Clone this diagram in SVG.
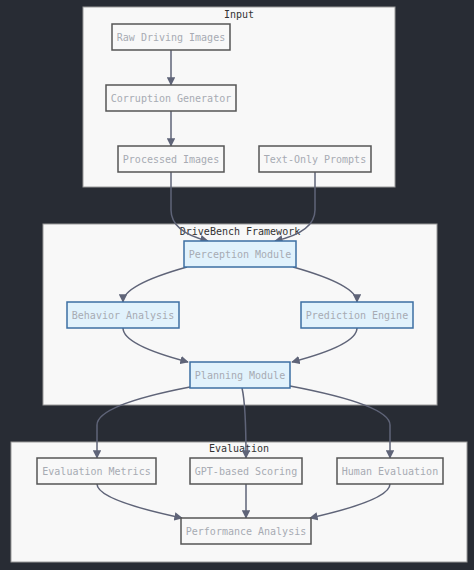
<svg xmlns="http://www.w3.org/2000/svg" width="474" height="570" viewBox="0 0 474 570">
<defs>
<style>
.cl{fill:#f8f8f8;stroke:#9a9a9a;stroke-width:1}
.ct{font-family:"DejaVu Sans Mono",monospace;font-size:10px;fill:#333;text-anchor:middle}
.n rect{fill:#f8f8f8;stroke:#555;stroke-width:1.5}
.b rect{fill:#e1f2fc;stroke:#3d6fa3;stroke-width:1.5}
.n text,.b text{font-family:"DejaVu Sans Mono",monospace;font-size:10px;fill:#a7abb3;text-anchor:middle;dominant-baseline:central}
.e path{fill:none;stroke:#5f6478;stroke-width:1.5;marker-end:url(#ah)}
</style>
<marker id="ah" viewBox="0 0 10 10" refX="9" refY="5" markerWidth="8.5" markerHeight="8.5" markerUnits="userSpaceOnUse" orient="auto"><path d="M0,0L10,5L0,10z" fill="#5f6478"/></marker>
</defs>
<rect width="474" height="570" fill="#282c34"/>
<g id="clusters">
<rect class="cl" x="83" y="7" width="312" height="180"/>
<text class="ct" x="239" y="18">Input</text>
<rect class="cl" x="43" y="224" width="394" height="181"/>
<text class="ct" x="240" y="235">DriveBench Framework</text>
<rect class="cl" x="11" y="442" width="456" height="120"/>
<text class="ct" x="239" y="452">Evaluation</text>
</g>
<g id="edges" class="e">
<path d="M171,50V85"/>
<path d="M171,111V146"/>
<path d="M171,172V210Q171,232 208,241"/>
<path d="M315,172V210Q315,232 275,241"/>
<path d="M187,267Q123,285 123,302"/>
<path d="M293,267Q357,285 357,302"/>
<path d="M123,328Q123,345 188,362"/>
<path d="M357,328Q357,345 292,362"/>
<path d="M190,387Q97,405 97,425V458"/>
<path d="M242,388Q246,405 246,458"/>
<path d="M290,386Q390,405 390,425V458"/>
<path d="M97,484Q97,500 182,518"/>
<path d="M246,484V518"/>
<path d="M390,484Q390,500 310,518"/>
</g>
<g id="raw" class="n"><rect x="112" y="24" width="118" height="26"/><text x="171" y="37">Raw Driving Images</text></g>
<g id="corruption" class="n"><rect x="106" y="85" width="130" height="26"/><text x="171" y="98">Corruption Generator</text></g>
<g id="processed" class="n"><rect x="118" y="146" width="106" height="26"/><text x="171" y="159">Processed Images</text></g>
<g id="textonly" class="n"><rect x="259" y="146" width="112" height="26"/><text x="315" y="159">Text-Only Prompts</text></g>
<g id="perception" class="b"><rect x="184" y="241" width="112" height="26"/><text x="240" y="254">Perception Module</text></g>
<g id="behavior" class="b"><rect x="67" y="302" width="112" height="26"/><text x="123" y="315">Behavior Analysis</text></g>
<g id="prediction" class="b"><rect x="301" y="302" width="112" height="26"/><text x="357" y="315">Prediction Engine</text></g>
<g id="planning" class="b"><rect x="190" y="362" width="100" height="26"/><text x="240" y="375">Planning Module</text></g>
<g id="metrics" class="n"><rect x="37" y="458" width="119" height="26"/><text x="96.5" y="471">Evaluation Metrics</text></g>
<g id="gpt" class="n"><rect x="190" y="458" width="112" height="26"/><text x="246" y="471">GPT-based Scoring</text></g>
<g id="human" class="n"><rect x="337" y="458" width="106" height="26"/><text x="390" y="471">Human Evaluation</text></g>
<g id="performance" class="n"><rect x="181" y="518" width="130" height="26"/><text x="246" y="531">Performance Analysis</text></g>
</svg>
